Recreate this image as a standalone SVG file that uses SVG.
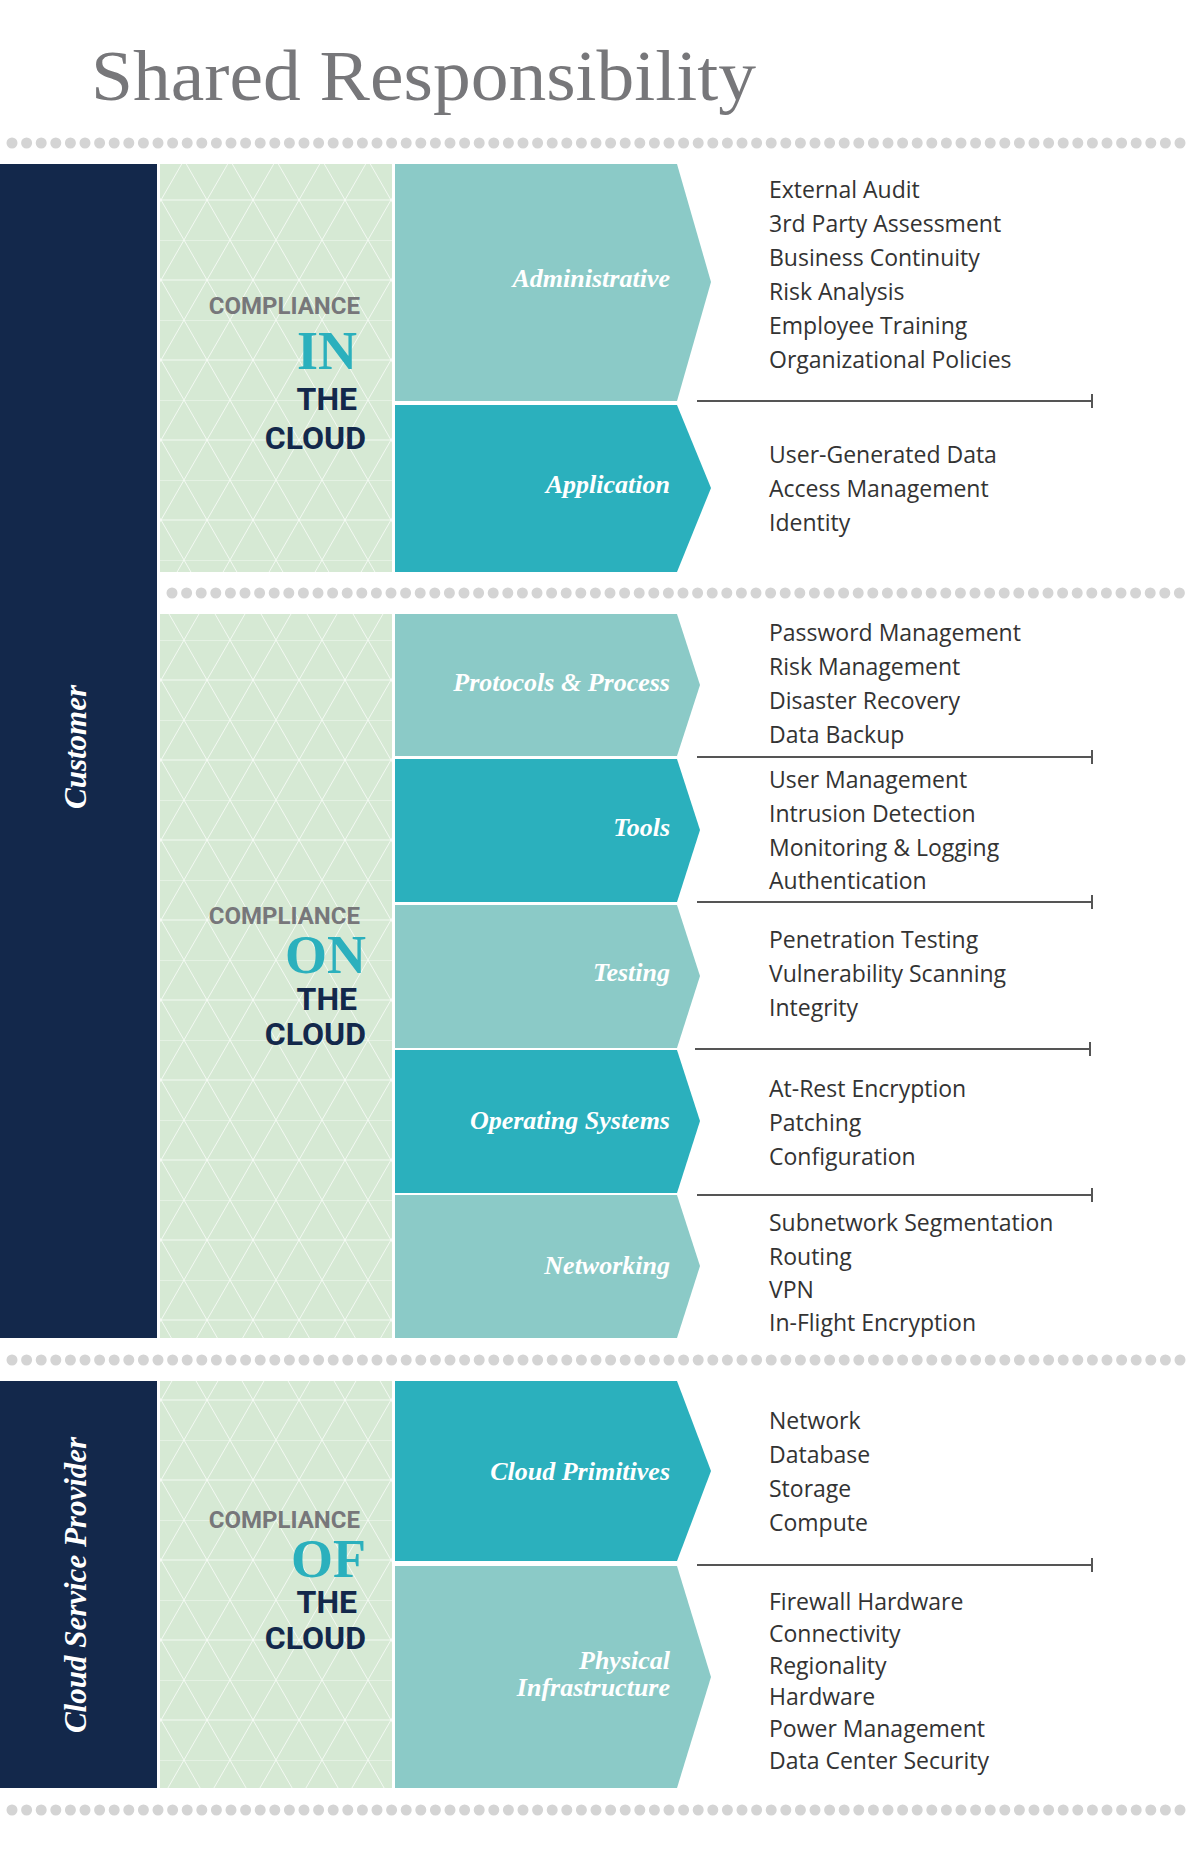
<svg xmlns="http://www.w3.org/2000/svg" width="1200" height="1856" viewBox="0 0 1200 1856">
<style>
.title{font-family:"Liberation Serif",serif;font-size:72px;fill:#77777a}
.lbl{font-family:"Liberation Serif",serif;font-style:italic;font-weight:bold;font-size:26px;fill:#fff;text-anchor:end}
.li{font-family:"Open Sans","Liberation Sans",sans-serif;font-size:23px;fill:#333}
.cmp{font-family:"Roboto","Liberation Sans",sans-serif;font-weight:bold;font-size:24px;fill:#77777a;text-anchor:end}
.big{font-family:"Liberation Serif",serif;font-weight:bold;font-size:54px;fill:#2bb0bd;text-anchor:end}
.the{font-family:"Roboto","Liberation Sans",sans-serif;font-weight:bold;font-size:32px;fill:#13284b;text-anchor:end}
.side{font-family:"Liberation Serif",serif;font-style:italic;font-weight:bold;font-size:31px;fill:#fff;text-anchor:middle}
.sep{stroke:#555;stroke-width:2;fill:none}
.dots{stroke:#d4d4d4;stroke-width:11;stroke-linecap:round;stroke-dasharray:0 14.6;fill:none}
</style>
<defs>
<pattern id="tri" patternUnits="userSpaceOnUse" width="46" height="80">
<rect width="46" height="80" fill="#d6e9d4"/>
<path d="M0 0L23 40L46 0M0 80L23 40L46 80M0 40H46M0 0H46" stroke="#fff" stroke-opacity="0.7" stroke-width="1" fill="none"/>
</pattern>
</defs>
<rect width="1200" height="1856" fill="#fff"/>
<text class="title" x="91" y="100" textLength="665" lengthAdjust="spacingAndGlyphs">Shared Responsibility</text>
<g class="dots">
<path d="M12 143H1185"/>
<path d="M172 593H1185"/>
<path d="M12 1360H1185"/>
<path d="M12 1810H1185"/>
</g>

<g id="customer">
<rect x="0" y="164" width="157" height="1174" fill="#13284b"/>
<text class="side" transform="translate(86 747) rotate(-90)">Customer</text>
</g>
<g id="csp">
<rect x="0" y="1381" width="157" height="407" fill="#13284b"/>
<text class="side" transform="translate(86 1585) rotate(-90)">Cloud Service Provider</text>
</g>

<g id="in-cloud">
<rect x="160" y="164" width="232" height="408" fill="url(#tri)"/>
<text class="cmp" x="360" y="314">COMPLIANCE</text>
<text class="big" x="357" y="369">IN</text>
<text class="the" x="357" y="410">THE</text>
<text class="the" x="366" y="449">CLOUD</text>
</g>
<g id="on-cloud">
<rect x="160" y="614" width="232" height="724" fill="url(#tri)"/>
<text class="cmp" x="360" y="924">COMPLIANCE</text>
<text class="big" x="366" y="973">ON</text>
<text class="the" x="357" y="1010">THE</text>
<text class="the" x="366" y="1045">CLOUD</text>
</g>
<g id="of-cloud">
<rect x="160" y="1381" width="232" height="407" fill="url(#tri)"/>
<text class="cmp" x="360" y="1528">COMPLIANCE</text>
<text class="big" x="366" y="1577">OF</text>
<text class="the" x="357" y="1613">THE</text>
<text class="the" x="366" y="1649">CLOUD</text>
</g>

<g id="administrative">
<path d="M395 164H677L711 282L677 401H395Z" fill="#8bcac7"/>
<text class="lbl" x="670" y="287">Administrative</text>
<text class="li" x="769" y="198">External Audit</text>
<text class="li" x="769" y="232">3rd Party Assessment</text>
<text class="li" x="769" y="266">Business Continuity</text>
<text class="li" x="769" y="300">Risk Analysis</text>
<text class="li" x="769" y="334">Employee Training</text>
<text class="li" x="769" y="368">Organizational Policies</text>
</g>
<g id="application">
<path d="M395 405H677L711 488L677 572H395Z" fill="#2bb0bd"/>
<text class="lbl" x="670" y="493">Application</text>
<text class="li" x="769" y="463">User-Generated Data</text>
<text class="li" x="769" y="497">Access Management</text>
<text class="li" x="769" y="531">Identity</text>
</g>
<g id="protocols">
<path d="M395 614H677L700 685L677 756H395Z" fill="#8bcac7"/>
<text class="lbl" x="670" y="691">Protocols &amp; Process</text>
<text class="li" x="769" y="641">Password Management</text>
<text class="li" x="769" y="675">Risk Management</text>
<text class="li" x="769" y="709">Disaster Recovery</text>
<text class="li" x="769" y="743">Data Backup</text>
</g>
<g id="tools">
<path d="M395 759H677L700 830L677 902H395Z" fill="#2bb0bd"/>
<text class="lbl" x="670" y="836">Tools</text>
<text class="li" x="769" y="788">User Management</text>
<text class="li" x="769" y="822">Intrusion Detection</text>
<text class="li" x="769" y="856">Monitoring &amp; Logging</text>
<text class="li" x="769" y="889">Authentication</text>
</g>
<g id="testing">
<path d="M395 905H677L700 976L677 1048H395Z" fill="#8bcac7"/>
<text class="lbl" x="670" y="981">Testing</text>
<text class="li" x="769" y="948">Penetration Testing</text>
<text class="li" x="769" y="982">Vulnerability Scanning</text>
<text class="li" x="769" y="1016">Integrity</text>
</g>
<g id="os">
<path d="M395 1050H677L700 1121L677 1193H395Z" fill="#2bb0bd"/>
<text class="lbl" x="670" y="1129">Operating Systems</text>
<text class="li" x="769" y="1097">At-Rest Encryption</text>
<text class="li" x="769" y="1131">Patching</text>
<text class="li" x="769" y="1165">Configuration</text>
</g>
<g id="networking">
<path d="M395 1195H677L700 1266L677 1338H395Z" fill="#8bcac7"/>
<text class="lbl" x="670" y="1274">Networking</text>
<text class="li" x="769" y="1231">Subnetwork Segmentation</text>
<text class="li" x="769" y="1265">Routing</text>
<text class="li" x="769" y="1298">VPN</text>
<text class="li" x="769" y="1331">In-Flight Encryption</text>
</g>
<g id="primitives">
<path d="M395 1381H677L711 1471L677 1561H395Z" fill="#2bb0bd"/>
<text class="lbl" x="670" y="1480">Cloud Primitives</text>
<text class="li" x="769" y="1429">Network</text>
<text class="li" x="769" y="1463">Database</text>
<text class="li" x="769" y="1497">Storage</text>
<text class="li" x="769" y="1531">Compute</text>
</g>
<g id="physical">
<path d="M395 1566H677L711 1677L677 1788H395Z" fill="#8bcac7"/>
<text class="lbl" x="670" y="1669">Physical</text>
<text class="lbl" x="670" y="1696">Infrastructure</text>
<text class="li" x="769" y="1610">Firewall Hardware</text>
<text class="li" x="769" y="1642">Connectivity</text>
<text class="li" x="769" y="1674">Regionality</text>
<text class="li" x="769" y="1705">Hardware</text>
<text class="li" x="769" y="1737">Power Management</text>
<text class="li" x="769" y="1769">Data Center Security</text>
</g>

<g id="connectors" class="sep">
<path d="M697 401H1092M1092 394V408"/>
<path d="M697 757H1092M1092 750V764"/>
<path d="M697 902H1092M1092 895V909"/>
<path d="M695 1049H1090M1090 1042V1056"/>
<path d="M697 1195H1092M1092 1188V1202"/>
<path d="M697 1565H1092M1092 1558V1572"/>
</g>
</svg>
